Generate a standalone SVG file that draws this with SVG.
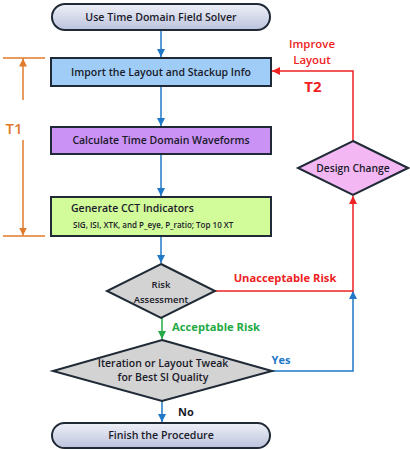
<svg xmlns="http://www.w3.org/2000/svg" width="410" height="450" viewBox="0 0 410 450">
<style>
text{font-family:"Open Sans","Liberation Sans",sans-serif;font-weight:600;fill:#1a1a2a;text-anchor:middle}
.n{stroke:#1f2a36;stroke-width:2}
.b{stroke:#1f78c8;stroke-width:1.5;fill:none}
.r{stroke:#ee2222;stroke-width:1.5;fill:none}
.g{stroke:#22aa44;stroke-width:1.5;fill:none}
.o{stroke:#e07a2c;stroke-width:1.5;fill:none}
.lab{font-weight:700}
</style>
<defs>
<linearGradient id="term" x1="0" y1="0" x2="0" y2="1">
<stop offset="0" stop-color="#eef0f8"/><stop offset="1" stop-color="#bcc3dc"/>
</linearGradient>
<marker id="ab" viewBox="0 0 10 10" refX="10" refY="5" markerWidth="8" markerHeight="8" markerUnits="userSpaceOnUse" orient="auto"><path d="M0,0L10,5L0,10z" fill="#1f78c8"/></marker>
<marker id="ar" viewBox="0 0 10 10" refX="10" refY="5" markerWidth="8" markerHeight="8" markerUnits="userSpaceOnUse" orient="auto"><path d="M0,0L10,5L0,10z" fill="#ee2222"/></marker>
<marker id="ag" viewBox="0 0 10 10" refX="10" refY="5" markerWidth="8" markerHeight="8" markerUnits="userSpaceOnUse" orient="auto"><path d="M0,0L10,5L0,10z" fill="#22aa44"/></marker>
<marker id="ao" viewBox="0 0 10 10" refX="10" refY="5" markerWidth="8" markerHeight="8" markerUnits="userSpaceOnUse" orient="auto"><path d="M0,0L10,5L0,10z" fill="#e07a2c"/></marker>
</defs>
<g id="connectors">
<line class="b" x1="161" y1="30" x2="161" y2="57" marker-end="url(#ab)"/>
<line class="b" x1="161" y1="86" x2="161" y2="126" marker-end="url(#ab)"/>
<line class="b" x1="161" y1="154" x2="161" y2="196" marker-end="url(#ab)"/>
<line class="b" x1="161" y1="236" x2="161" y2="263" marker-end="url(#ab)"/>
<line class="g" x1="162" y1="318" x2="162" y2="339" marker-end="url(#ag)"/>
<line class="b" x1="162" y1="401" x2="162" y2="422" marker-end="url(#ab)"/>
<polyline class="b" points="272,371 353,371 353,291" marker-end="url(#ab)"/>
<polyline class="r" points="215,291 353,291 353,196" marker-end="url(#ar)"/>
<polyline class="r" points="353,141 353,71 272,71" marker-end="url(#ar)"/>
<line class="o" x1="3" y1="58" x2="45" y2="58"/>
<line class="o" x1="3" y1="236" x2="45" y2="236"/>
<line class="o" x1="23" y1="100" x2="23" y2="58.5" marker-end="url(#ao)"/>
<line class="o" x1="23" y1="140" x2="23" y2="235.5" marker-end="url(#ao)"/>
</g>
<text x="14" y="134" style="fill:#e07a2c;font-size:15px">T1</text>
<text x="312" y="48" style="fill:#ee2222;font-size:11.4px">Improve</text>
<text x="312" y="64" style="fill:#ee2222;font-size:11.4px">Layout</text>
<text x="313" y="92" class="lab" style="fill:#ee2222;font-size:15px">T2</text>
<text x="285" y="282" class="lab" style="fill:#ee2222;font-size:11.2px">Unacceptable Risk</text>
<text x="216" y="331" class="lab" style="fill:#22aa44;font-size:11.2px">Acceptable Risk</text>
<text x="281" y="364" class="lab" style="fill:#1f78c8;font-size:11px">Yes</text>
<text x="186" y="416" class="lab" style="font-size:11px">No</text>
<g id="start">
<rect class="n" x="52" y="4" width="218" height="26" rx="13" fill="url(#term)" stroke-width="1.5"/>
<text x="161" y="21" style="font-size:10.6px">Use Time Domain Field Solver</text>
</g>
<g id="import">
<rect class="n" x="51" y="58" width="220" height="28" fill="#9fcdf7"/>
<text x="161" y="75.5" style="font-size:10.5px">Import the Layout and Stackup Info</text>
</g>
<g id="calc">
<rect class="n" x="51" y="127" width="220" height="27" fill="#c992f4"/>
<text x="161" y="144" style="font-size:10.5px">Calculate Time Domain Waveforms</text>
</g>
<g id="generate">
<rect class="n" x="51" y="197" width="220" height="39" fill="#d2fb9a"/>
<text x="71" y="212" style="font-size:10.5px;text-anchor:start">Generate CCT Indicators</text>
<text x="73" y="228" style="font-size:8px;text-anchor:start">SIG, ISI, XTK, and P_eye, P_ratio; Top 10 XT</text>
</g>
<g id="design">
<polygon class="n" points="353,141 408,168 353,195 298,168" fill="#f3b8f3" stroke-width="1.5"/>
<text x="353" y="171.5" style="font-size:10.3px">Design Change</text>
</g>
<g id="risk">
<polygon class="n" points="161,264 215,291 161,318 107,291" fill="#d3d3d3" stroke-width="1.5"/>
<text x="161" y="288" style="font-size:9.5px">Risk</text>
<text x="161" y="303" style="font-size:9.5px">Assessment</text>
</g>
<g id="iteration">
<polygon class="n" points="162,340 272,371 162,401 53,371" fill="#d3d3d3" stroke-width="1.5"/>
<text x="163" y="367" style="font-size:10.5px">Iteration or Layout Tweak</text>
<text x="163" y="381" style="font-size:10.5px">for Best SI Quality</text>
</g>
<g id="finish">
<rect class="n" x="52" y="423" width="218" height="25" rx="12.5" fill="url(#term)" stroke-width="1.5"/>
<text x="161" y="439" style="font-size:10.6px">Finish the Procedure</text>
</g>
</svg>
